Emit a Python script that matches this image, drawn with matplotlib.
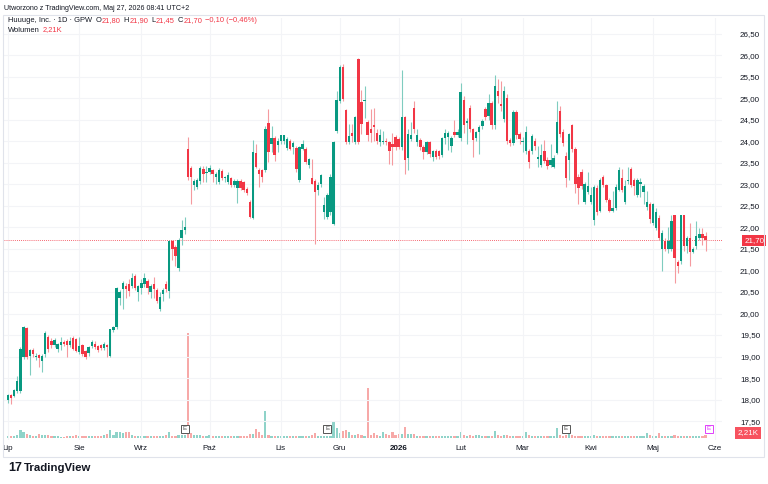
import numpy as np
import matplotlib
matplotlib.use("Agg")
import matplotlib.pyplot as plt
from matplotlib.patches import Rectangle

plt.rcParams['font.family'] = ['Liberation Sans', 'DejaVu Sans']

# daily OHLC, Huuuge Inc. (GPW), Jul 2025 - May 27 2026
opens = [17.98, 18.10, 18.08, 18.19, 18.19, 19.00, 19.66, 19.02, 19.16, 18.98,
         19.03, 18.90, 19.07, 19.45, 19.37, 19.28, 19.18, 19.27, 19.34, 19.37,
         19.27, 19.42, 19.40, 19.10, 19.27, 19.12, 19.08, 19.25, 19.30, 19.25,
         19.27, 19.20, 19.28, 19.02, 19.62, 19.68, 20.35, 20.56, 20.64, 20.68,
         20.64, 20.87, 20.49, 20.60, 20.68, 20.75, 20.49, 20.68, 20.55, 20.10,
         20.45, 20.68, 20.53, 21.68, 21.55, 21.06, 21.75, 21.94, 23.83, 23.38,
         22.98, 22.95, 23.08, 23.37, 23.27, 23.30, 23.33, 23.18, 23.06, 23.32,
         23.15, 23.06, 23.14, 22.99, 22.92, 23.08, 23.05, 22.90, 22.60, 22.22,
         23.74, 23.33, 23.33, 23.33, 24.43, 23.95, 24.08, 23.92, 24.00, 24.00,
         23.85, 24.00, 23.87, 23.85, 23.10, 23.83, 23.83, 23.45, 23.14, 23.08,
         22.87, 23.02, 22.37, 22.25, 22.37, 22.08, 24.25, 24.95, 25.73, 24.72,
         23.98, 24.20, 23.98, 25.92, 24.92, 24.93, 24.45, 24.28, 24.38, 24.19,
         23.98, 23.98, 24.00, 23.98, 23.95, 24.10, 24.05, 23.87, 24.58, 23.62,
         24.05, 24.77, 23.98, 24.03, 23.87, 23.75, 23.98, 23.64, 23.77, 23.77,
         23.68, 24.07, 24.10, 23.90, 24.23, 24.15, 24.08, 24.97, 24.42, 24.77,
         24.28, 24.08, 24.22, 24.37, 24.75, 24.60, 24.90, 24.38, 25.18, 24.87,
         24.52, 25.02, 24.03, 23.97, 24.68, 24.18, 23.98, 23.77, 23.77, 23.77,
         24.02, 23.60, 23.45, 23.77, 23.58, 23.45, 23.41, 23.74, 24.70, 24.22,
         23.66, 23.58, 24.38, 23.83, 23.18, 23.29, 22.60, 22.83, 22.60, 22.18,
         22.92, 22.39, 23.18, 22.99, 22.64, 22.39, 22.45, 22.87, 23.14, 22.60,
         23.08, 23.37, 23.10, 22.75, 23.00, 22.83, 22.48, 22.55, 22.10, 21.98,
         22.22, 21.50, 21.68, 21.50, 21.50, 22.28, 21.20, 21.22, 22.29, 21.56,
         21.75, 21.44, 21.56, 21.75, 21.86, 21.80]
highs = [18.12, 18.12, 18.25, 18.55, 19.22, 19.70, 19.68, 19.18, 19.20, 19.08,
         19.05, 19.05, 19.60, 19.50, 19.42, 19.42, 19.32, 19.45, 19.38, 19.40,
         19.45, 19.48, 19.42, 19.45, 19.30, 19.15, 19.25, 19.38, 19.35, 19.28,
         19.30, 19.33, 19.30, 19.65, 19.72, 20.62, 20.55, 20.75, 20.70, 20.80,
         20.95, 20.92, 20.66, 20.80, 20.95, 20.80, 20.68, 20.85, 20.60, 20.50,
         20.60, 20.75, 21.72, 21.70, 21.60, 21.75, 22.18, 22.25, 24.10, 23.42,
         23.12, 23.15, 23.42, 23.42, 23.42, 23.45, 23.36, 23.30, 23.38, 23.35,
         23.20, 23.28, 23.18, 23.12, 23.12, 23.12, 23.08, 22.95, 22.65, 24.03,
         23.95, 23.38, 23.36, 24.35, 24.75, 24.35, 24.12, 24.08, 24.15, 24.16,
         24.10, 24.05, 24.00, 23.90, 23.90, 24.03, 23.88, 23.62, 23.60, 23.12,
         23.05, 23.25, 22.70, 22.80, 23.25, 24.00, 25.18, 25.78, 25.80, 24.75,
         24.40, 24.40, 24.60, 25.95, 25.20, 25.30, 24.50, 24.75, 24.78, 24.30,
         24.30, 24.25, 24.08, 24.02, 24.20, 24.15, 24.10, 25.65, 24.60, 24.30,
         24.45, 24.95, 24.30, 24.08, 23.92, 24.02, 24.02, 23.80, 23.82, 23.80,
         24.10, 24.30, 24.25, 24.12, 24.50, 24.28, 25.37, 25.05, 24.55, 24.85,
         24.32, 24.25, 24.38, 24.52, 24.80, 25.10, 24.95, 25.55, 25.45, 25.40,
         25.28, 25.10, 24.08, 24.72, 24.72, 24.22, 24.10, 24.35, 23.82, 24.18,
         24.08, 23.90, 23.95, 24.03, 23.65, 23.95, 23.68, 24.93, 24.82, 24.28,
         23.75, 24.20, 24.40, 23.88, 23.25, 23.35, 23.05, 23.30, 22.95, 22.98,
         22.98, 23.15, 23.22, 23.02, 22.68, 22.85, 23.00, 23.40, 23.35, 23.10,
         23.40, 23.40, 23.15, 23.15, 23.15, 23.00, 22.85, 22.60, 22.58, 22.45,
         22.28, 21.95, 21.75, 22.00, 22.30, 22.30, 21.25, 22.30, 22.30, 21.80,
         22.10, 21.55, 22.15, 21.98, 21.98, 21.90]
lows = [17.92, 17.90, 18.05, 18.15, 18.15, 18.95, 18.95, 18.58, 18.98, 18.92,
        18.75, 18.63, 19.00, 19.10, 19.20, 19.22, 19.10, 19.15, 19.25, 19.00,
        19.22, 19.15, 19.10, 19.05, 19.02, 18.95, 19.02, 19.20, 19.18, 19.10,
        19.15, 19.15, 19.00, 19.00, 19.58, 19.65, 20.20, 20.10, 20.35, 20.40,
        20.60, 20.55, 20.30, 20.45, 20.62, 20.45, 20.35, 20.35, 20.25, 20.05,
        20.30, 20.50, 20.35, 21.25, 21.10, 21.00, 21.60, 21.85, 23.10, 22.55,
        22.88, 22.90, 23.00, 23.05, 23.05, 23.25, 23.05, 23.00, 23.02, 23.10,
        23.05, 23.02, 22.95, 22.95, 22.58, 22.88, 22.82, 22.75, 22.22, 22.20,
        23.38, 22.95, 23.05, 23.30, 23.52, 23.75, 23.55, 23.75, 23.95, 23.95,
        23.80, 23.80, 23.70, 23.30, 23.05, 23.80, 23.48, 23.38, 23.00, 21.62,
        22.75, 22.95, 22.20, 22.20, 22.30, 22.05, 24.20, 24.90, 24.95, 23.95,
        23.95, 23.98, 23.95, 23.95, 24.18, 24.55, 24.00, 23.98, 24.00, 23.95,
        23.90, 23.95, 23.92, 23.48, 23.45, 23.80, 23.82, 23.80, 23.25, 23.33,
        24.00, 24.20, 23.90, 23.80, 23.60, 23.70, 23.65, 23.55, 23.60, 23.60,
        23.65, 23.95, 23.80, 23.75, 24.10, 24.10, 24.00, 24.20, 23.95, 24.22,
        23.65, 24.00, 23.70, 24.30, 24.50, 24.50, 24.30, 24.30, 24.90, 24.70,
        24.45, 23.95, 23.90, 23.92, 24.05, 23.95, 23.75, 23.72, 23.38, 23.70,
        23.80, 23.40, 23.40, 23.50, 23.35, 23.40, 23.38, 23.70, 24.10, 23.90,
        22.95, 23.10, 23.75, 22.80, 22.55, 22.90, 22.55, 22.78, 22.55, 22.05,
        22.30, 22.35, 22.95, 22.60, 22.35, 22.35, 22.40, 22.85, 22.82, 22.55,
        23.00, 22.95, 22.75, 22.70, 22.70, 22.55, 22.40, 22.10, 22.05, 21.95,
        21.70, 21.00, 21.45, 21.40, 21.45, 20.72, 20.95, 21.15, 21.45, 21.40,
        21.10, 21.40, 21.50, 21.70, 21.60, 21.45]
closes = [18.10, 18.03, 18.23, 18.42, 19.18, 19.68, 19.00, 19.15, 19.05, 19.02,
          18.97, 19.02, 19.55, 19.18, 19.26, 19.39, 19.30, 19.33, 19.30, 19.27,
          19.37, 19.18, 19.14, 19.25, 19.07, 18.98, 19.22, 19.33, 19.22, 19.15,
          19.20, 19.30, 19.22, 19.63, 19.68, 20.59, 20.50, 20.71, 20.56, 20.52,
          20.83, 20.60, 20.64, 20.70, 20.83, 20.60, 20.64, 20.56, 20.30, 20.38,
          20.54, 20.56, 21.68, 21.49, 21.33, 21.72, 21.95, 22.00, 23.18, 23.18,
          23.07, 23.10, 23.38, 23.25, 23.30, 23.38, 23.25, 23.25, 23.33, 23.14,
          23.18, 23.23, 22.98, 23.08, 23.08, 22.92, 22.87, 22.80, 22.25, 23.75,
          23.41, 23.25, 23.18, 24.29, 23.75, 24.08, 23.68, 24.02, 24.14, 24.14,
          24.05, 23.83, 23.97, 23.37, 23.87, 23.95, 23.52, 23.60, 23.02, 22.83,
          22.98, 23.23, 22.52, 22.75, 23.18, 23.98, 24.97, 25.73, 24.98, 23.98,
          24.12, 24.12, 24.56, 23.98, 24.40, 24.97, 24.14, 24.20, 24.33, 24.00,
          24.14, 24.02, 23.98, 23.77, 23.87, 23.87, 23.87, 24.58, 23.58, 24.18,
          24.15, 24.28, 24.14, 23.87, 23.75, 23.98, 23.72, 23.77, 23.65, 23.67,
          24.07, 24.20, 24.20, 24.08, 24.15, 24.22, 25.14, 24.38, 24.47, 24.28,
          24.03, 24.22, 24.33, 24.48, 24.56, 24.90, 24.38, 25.29, 25.06, 24.82,
          25.18, 24.02, 23.97, 24.68, 24.14, 24.05, 24.02, 24.22, 23.52, 24.12,
          23.89, 23.64, 23.68, 23.54, 23.43, 23.58, 23.62, 24.46, 24.18, 23.97,
          23.14, 24.18, 23.82, 23.02, 22.91, 22.97, 23.02, 22.97, 22.75, 22.95,
          22.37, 23.10, 22.99, 22.64, 22.39, 22.45, 22.95, 23.33, 22.87, 22.97,
          23.10, 22.99, 22.97, 23.10, 23.06, 22.97, 22.60, 22.20, 22.54, 22.37,
          21.75, 21.87, 21.49, 21.68, 22.15, 21.29, 21.10, 22.29, 21.56, 21.75,
          21.44, 21.50, 21.80, 21.86, 21.75, 21.70]
# volume in thousands of shares
volume = [2, 2, 2, 3, 8, 6, 4, 3, 2, 1.5, 4, 3, 3, 3, 2, 1.5, 1.5, 1, 1, 1.5,
          2, 2, 3, 1.5, 2, 1.5, 1.5, 1.5, 2, 2, 2, 3, 4, 8, 3, 6, 6, 5, 6, 6,
          3, 2, 2, 1.5, 1.5, 2, 1.5, 2, 2, 2, 2, 2.5, 6, 2, 2, 2.5, 3, 3, 105, 5,
          3, 3, 3, 1.5, 1.5, 3, 1.5, 2, 2, 2, 1.5, 2, 2, 2, 2, 2, 2, 2, 4, 4,
          9, 6, 3, 27, 3, 2, 2, 1.5, 1.5, 1.5, 1.5, 1.5, 1.5, 1.5, 2, 2, 2, 2, 3, 5,
          2, 1.5, 2, 2, 2, 16, 10, 5, 7, 8, 6, 3, 3, 4, 3, 2, 50, 3, 5, 3,
          2, 6, 4, 3, 6, 3, 4, 4, 11, 4, 4, 4, 2, 2, 2, 1.5, 2, 1.5, 2, 1.5,
          2, 1.5, 1.5, 2, 2, 2, 6, 3, 2, 3, 2, 2.5, 3, 2, 2, 1.5, 2, 7, 3, 2,
          3, 3, 2, 2, 2, 1.5, 2, 6, 3, 2, 2, 1.5, 1.5, 2, 1.5, 2, 2, 10, 3, 2,
          3, 11, 3, 2, 2, 2, 1.5, 1.5, 1.5, 3, 2, 2, 1.5, 1.5, 2, 1.5, 2, 2, 1.5, 2,
          1.5, 2, 1.5, 2, 1.5, 2, 5, 3, 2, 2, 5, 2, 1.5, 2, 2, 3, 2, 2, 2, 1.5,
          2, 1.5, 2, 1.5, 1.5, 2.21]

month_labels = ["Lip", "Sie", "Wrz", "Paź", "Lis", "Gru", "2026", "Lut", "Mar", "Kwi", "Maj", "Cze"]
month_idx = [0, 23, 43, 65, 88, 107, 126, 146, 166, 188, 208, 228]
earnings_idx = [57, 103, 180, 226]
price_ticks = np.arange(17.5, 26.51, 0.5)

UP = "#089981"
DOWN = "#f23645"
GRID = "#f3f4f7"
INK = "#131722"

fig = plt.figure(figsize=(7.68, 4.84), dpi=100)
W, H = 768, 484


def fx(px):
    return px / W


def fy(py):
    return 1 - py / H


ax = fig.add_axes([fx(4), fy(440), fx(718), 422 / H])
axv = ax.twinx()
ax.set_zorder(axv.get_zorder() + 1)
ax.patch.set_visible(False)

n = len(closes)
idx = np.arange(n)
o = np.array(opens)
c = np.array(closes)
up = c >= o
cols = np.where(up, UP, DOWN)

# volume
vcols = np.where(up, "#8fd3c9", "#f7a9a8")
axv.bar(idx, volume, width=0.7, color=vcols, linewidth=0)
axv.set_ylim(-2.5, 419.5)
axv.set_yticks([])
for s in axv.spines.values():
    s.set_visible(False)

# candles
wick_cols = np.where(up, "#7fccbf", "#f59a9f")
ax.vlines(idx, lows, highs, colors=wick_cols, linewidth=0.8, zorder=2)
bottoms = np.minimum(o, c)
heights = np.maximum(np.abs(c - o), 0.02)
ax.bar(idx, heights, bottom=bottoms, width=0.75, color=cols, linewidth=0, zorder=3)

ax.set_xlim(-1.3, 230.3)
ax.set_ylim(17.06, 26.87)

ax.set_yticks(price_ticks)
ax.set_yticklabels([f"{p:.2f}".replace(".", ",") for p in price_ticks])
ax.yaxis.tick_right()
ax.tick_params(axis="y", length=0, pad=13, labelsize=5.8, labelcolor=INK)
ax.set_xticks(month_idx)
ax.set_xticklabels(month_labels)
ax.tick_params(axis="x", length=0, pad=3.5, labelsize=5.8, labelcolor=INK)
for lab in ax.get_xticklabels():
    if lab.get_text() == "2026":
        lab.set_fontweight("bold")
ax.grid(True, color=GRID, linewidth=0.8, zorder=0)
ax.set_axisbelow(True)
for s in ax.spines.values():
    s.set_visible(False)

# last price line and labels
last = closes[-1]
ax.axhline(last, color=DOWN, linewidth=0.6, linestyle=(0, (1, 1.5)), zorder=1)
ax.annotate(f"{last:.2f}".replace(".", ","), xy=(1, last), xycoords=("axes fraction", "data"),
            xytext=(16, 0), textcoords="offset points", ha="left", va="center",
            fontsize=5.8, color="white",
            bbox=dict(boxstyle="square,pad=0.25", fc=DOWN, ec="none"))
fig.text(fx(748), fy(433), "2,21K", ha="center", va="center", fontsize=5.8, color="white",
         bbox=dict(boxstyle="square,pad=0.25", fc="#f7525f", ec="none"))

# earnings markers
for k, e in enumerate(earnings_idx):
    ec = "#e040fb" if k == len(earnings_idx) - 1 else "#555555"
    ax.annotate("E", xy=(e, 0), xycoords=("data", "axes fraction"), xytext=(0, 8),
                textcoords="offset points", ha="center", va="center", fontsize=4.5,
                color=ec, annotation_clip=False,
                bbox=dict(boxstyle="square,pad=0.3", fc="white", ec=ec, lw=0.7))

# frame
fig.patches.append(Rectangle((fx(3), fy(457)), fx(761), 442 / H, transform=fig.transFigure,
                             fill=False, ec="#e0e3eb", lw=0.8))

renderer = fig.canvas.get_renderer()


def text_row(x0, y, pieces, fs):
    # lay pieces one after another, each (text, colour, gap after in px)
    x = x0
    for t, col, gap in pieces:
        txt = fig.text(fx(x), fy(y), t, fontsize=fs, color=col, va="center")
        bb = txt.get_window_extent(renderer)
        x = bb.x1 + gap


# header texts
fig.text(fx(4), fy(8), "Utworzono z TradingView.com, Maj 27, 2026 08:41 UTC+2",
         fontsize=5.1, color=INK, va="center")
text_row(8, 21, [("Huuuge, Inc. · 1D · GPW", INK, 3), ("O", INK, 0.5), ("21,80", DOWN, 3),
                 ("H", INK, 0.5), ("21,90", DOWN, 3), ("L", INK, 0.5), ("21,45", DOWN, 3),
                 ("C", INK, 0.5), ("21,70", DOWN, 3), ("−0,10 (−0,46%)", DOWN, 0)], 5.4)
text_row(8, 30, [("Wolumen", INK, 3), ("2,21K", DOWN, 0)], 5.4)

# logo
fig.text(fx(8), fy(468), "17", fontsize=9, fontweight="heavy", color=INK, va="center")
fig.text(fx(24), fy(468), "TradingView", fontsize=8.2, fontweight="bold", color=INK, va="center")

fig.savefig("out.png", dpi=100, facecolor="white")
